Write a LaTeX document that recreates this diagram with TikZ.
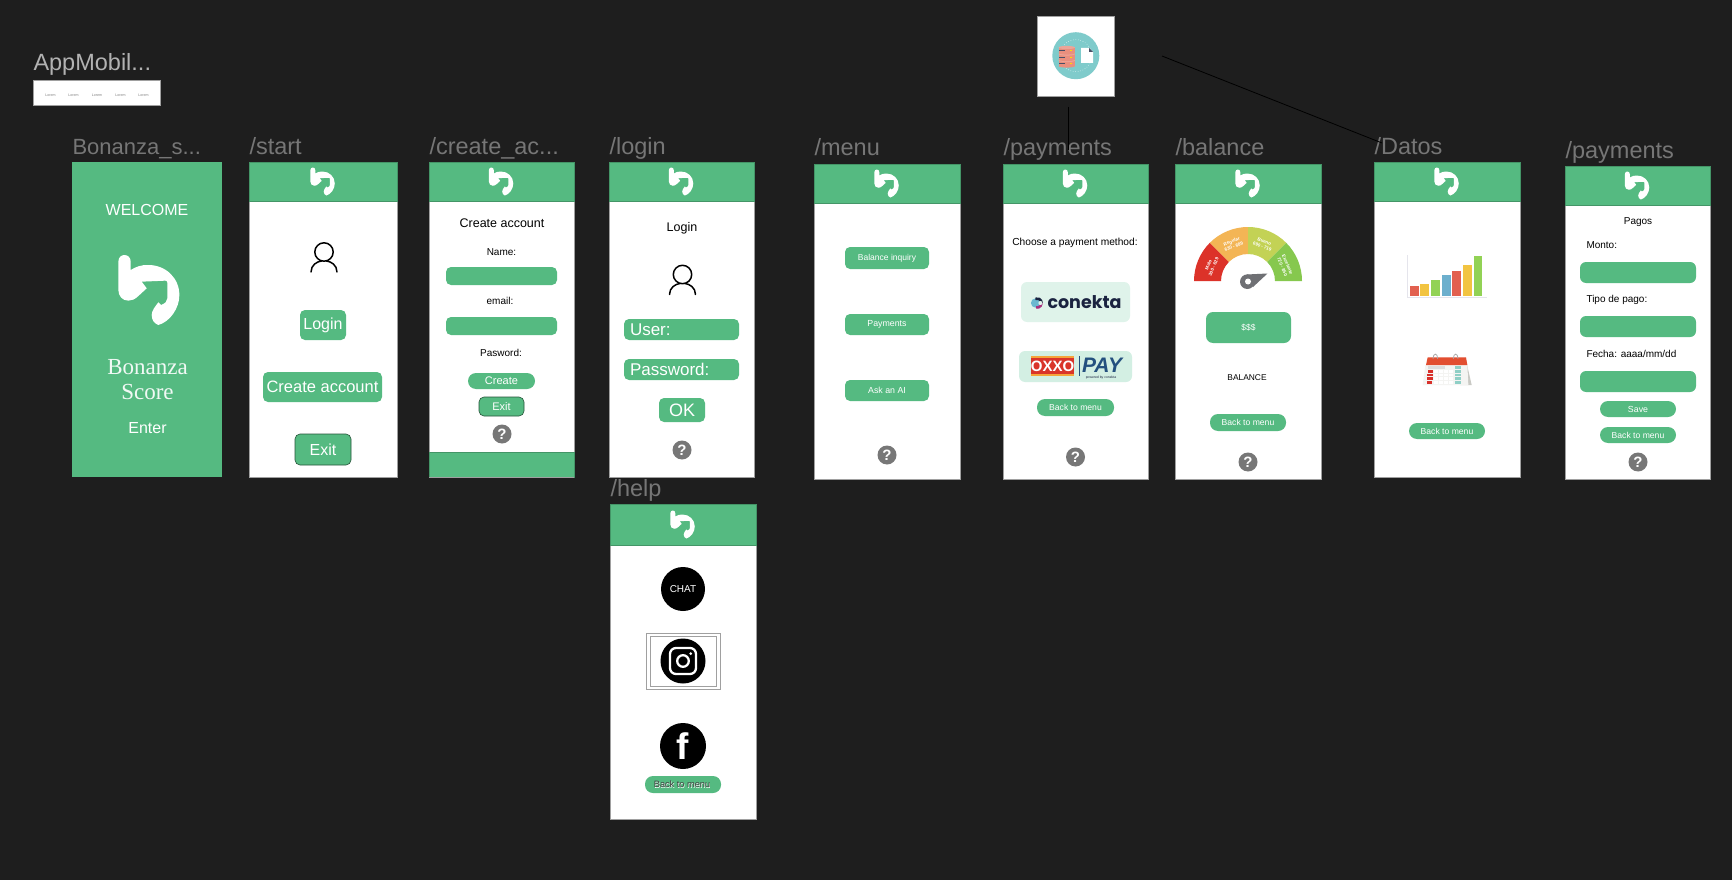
\documentclass[tikz,border=0pt]{standalone}
\usepackage{fontspec}
\setmainfont{Liberation Sans}
\newfontfamily\serifb{Liberation Serif}
\newfontfamily\popp{Poppins}
\newcommand\fs[1]{\fontsize{#1}{#1}\selectfont}
\definecolor{bgd}{HTML}{1E1E1E}
\definecolor{grn}{HTML}{55BA81}
\definecolor{frm}{HTML}{A0A0A0}
\definecolor{lab}{HTML}{767676}
\definecolor{qgr}{HTML}{777777}
\definecolor{navy}{HTML}{1A2340}
\definecolor{oxred}{HTML}{D9352A}
\definecolor{oxorg}{HTML}{F5A53A}
\definecolor{paybl}{HTML}{24507F}
\definecolor{conbl}{HTML}{6BB8D0}
\definecolor{conmg}{HTML}{A8307F}
\definecolor{HTMLdfe}{HTML}{DFF3EA}
\definecolor{HTMLdcf}{HTML}{D3EFE3}
\definecolor{HTML7fc}{HTML}{7FCBCB}
\definecolor{HTMLe98}{HTML}{E98F7E}
\definecolor{HTMLdc3}{HTML}{DC3229}
\definecolor{HTMLf3b}{HTML}{F3B555}
\definecolor{HTMLc3d}{HTML}{C3D255}
\definecolor{HTML86c}{HTML}{86C84E}
\definecolor{HTML6f7}{HTML}{6F7074}
\definecolor{HTMLe5e}{HTML}{E5E5EC}
\definecolor{HTMLe26}{HTML}{E2604F}
\definecolor{HTMLf2c}{HTML}{F2C441}
\definecolor{HTML92d}{HTML}{92D255}
\definecolor{HTML6ca}{HTML}{6CAFCD}
\definecolor{HTMLc9c}{HTML}{C9C9C4}
\definecolor{HTMLf4f}{HTML}{F4F4F2}
\definecolor{HTMLe24}{HTML}{E24E30}
\definecolor{HTMLaaa}{HTML}{AAAAAA}
\definecolor{HTMLddd}{HTML}{DDDDDD}
\definecolor{HTMLd22}{HTML}{D8302A}
\definecolor{HTML8fd}{HTML}{8FCFC6}
\tikzset{
 rb/.style={inner sep=0pt,outer sep=0pt,align=center},
 screen/.style={rb,fill=white,draw=frm,line width=.7pt},
 headbar/.style={rb,fill=grn,draw=grn!80!black,line width=.4pt},
 field/.style={rb,fill=grn,rounded corners=5pt,text=white},
 pill/.style={rb,fill=grn,rounded corners=8pt,text=white},
 outl/.style={field,draw=grn!45!black,line width=.6pt},
 txt/.style={inner sep=0pt,outer sep=0pt},
 framelabel/.style={txt,anchor=base west,text=lab,font=\fs{23.5}},
 conn/.style={draw=black,line width=.8pt},
 iconline/.style={draw=black,line width=1.5pt,line cap=round},
}
\newcommand\rbox[7]{%
 \pgfmathsetmacro\rbcx{(#2+#4)/2}\pgfmathsetmacro\rbcy{(#3+#5)/2}%
 \pgfmathsetmacro\rbw{#4-#2}\pgfmathsetmacro\rbh{#5-#3}%
 \node[#6,minimum width=\rbw pt,minimum height=\rbh pt] (#1) at (\rbcx,\rbcy) {#7};}
\newcommand\applogo[3]{%
 \begin{scope}[shift={(#1,#2)},scale=#3/3,shift={(-176,-150)}]
 \fill[white] (85,65) .. controls (85,52) and (94,45) .. (103,45) .. controls (113,45) and (122,52) .. (122,65) -- (122,90) .. controls (138,80) and (155,74) .. (175,75) .. controls (228,75) and (268,115) .. (268,165) .. controls (268,205) and (240,245) .. (205,255) .. controls (192,250) and (185,240) .. (185,225) .. controls (185,212) and (195,200) .. (205,187) -- (213,195) .. controls (225,190) and (232,185) .. (232,175) -- (232,128) .. controls (232,124) and (230,122) .. (226,122) -- (155,125) -- (170,145) -- (145,168) .. controls (135,178) and (125,182) .. (115,182) .. controls (97,182) and (85,168) .. (85,150) -- cycle;
 \end{scope}}
\newcommand\scr[7]{% name x1 y1 x2 y2 headbottom label
 \rbox{#1}{#2}{#3}{#4}{#5}{screen}{}%
 \rbox{#1head}{#2}{#3}{#4}{#6}{headbar}{}%
 \pgfmathsetmacro\lgx{(#2+#4)/2-.5}\pgfmathsetmacro\lgy{(#3+#6)/2}%
 \pgfmathsetmacro\lbx{#2+.5}\pgfmathsetmacro\lby{#3-8}%
 \applogo{\lgx}{\lgy}{.4}%
 \node[framelabel] (#1label) at (\lbx,\lby) {#7};}
\newcommand\qm[3]{\node[circle,fill=qgr,text=white,inner sep=0pt,minimum size=19pt,font=\fs{15}\bfseries] (#1) at (#2,#3) {?};}
\newcommand\usericon[2]{%
 \begin{scope}[shift={(#1,#2)}]
 \draw[iconline] (0,0) circle (9.2);
 \draw[iconline] (-13,20) .. controls (-13,13) and (-7,9.5) .. (-2.5,9) (2.5,9) .. controls (7,9.5) and (13,13) .. (13,20);
 \end{scope}}
\begin{document}
\begin{tikzpicture}[x=1pt,y=-1pt]
\fill[bgd] (0,0) rectangle (1732,880);
\useasboundingbox (0,0) rectangle (1732,880);

% ---- thumbnail
\node[txt,anchor=base west,text=white!70!black,font=\fs{23.5}] (applabel) at (33.5,71) {AppMobil...};
\rbox{thumb}{33.5}{80}{160}{105}{rb,fill=white,draw=frm,line width=.7pt}{}
\node[txt,text=gray,font=\fs{3.6}] (th1) at (50.5,95) {Lorem};
\node[txt,text=gray,font=\fs{3.6}] (th2) at (73.5,95) {Lorem};
\node[txt,text=gray,font=\fs{3.6}] (th3) at (97,95) {Lorem};
\node[txt,text=gray,font=\fs{3.6}] (th4) at (120.5,95) {Lorem};
\node[txt,text=gray,font=\fs{3.6}] (th5) at (143.5,95) {Lorem};

% ---- splash
\rbox{splash}{72}{162}{222}{477}{rb,fill=grn}{}
\node[framelabel,font=\fs{22}] (splashlabel) at (72.5,154) {Bonanza\_s...};
\node[txt,text=white,font=\fs{16}] (welcome) at (147,209.5) {WELCOME};
\applogo{148.7}{290}{1}
\node[txt,text=white!92!grn,font=\fs{23}\serifb] (bonanza) at (147.5,367) {Bonanza};
\node[txt,text=white!92!grn,font=\fs{23}\serifb] (score) at (147.5,392) {Score};
\node[txt,text=white,font=\fs{16}] (enter) at (147.5,428.5) {Enter};

% ---- start
\scr{start}{249}{162}{397}{477}{201}{/start}
\usericon{324}{252}
\rbox{blogin}{300}{310}{346}{340}{field,font=\fs{16}}{Login}
\rbox{bcreate}{263}{372}{382}{402}{field,font=\fs{16.5}}{Create account}
\rbox{bexit}{295}{434}{351}{465}{outl,font=\fs{16}}{Exit}

% ---- create account
\scr{create}{429}{162}{574}{477}{201}{/create\_ac...}
\rbox{createfoot}{429}{452}{574}{477}{headbar}{}
\fill[frm] (429,476.5) rectangle (574,478);
\node[txt,font=\fs{12.5}] (ctitle) at (502,223) {Create account};
\node[txt,font=\fs{10}] (cname) at (501.5,252.5) {Name:};
\rbox{fname}{446}{267}{557}{285}{field}{}
\node[txt,font=\fs{10}] (cemail) at (500,301) {email:};
\rbox{femail}{446}{317}{557}{335}{field}{}
\node[txt,font=\fs{10}] (cpass) at (501,353) {Pasword:};
\rbox{ccreate}{468}{373}{535}{389}{pill,font=\fs{11}}{Create}
\rbox{cexit}{479}{397}{524}{416}{outl,font=\fs{11}}{Exit}
\qm{qcreate}{502}{434}

% ---- login
\scr{login}{609}{162}{754}{477}{201}{/login}
\node[txt,font=\fs{12.5}] (ltitle) at (682,228.5) {Login};
\usericon{682.5}{274.5}
\rbox{fuser}{624}{319}{739}{340}{field}{}
\node[txt,anchor=west,text=white,font=\fs{17}] (tuser) at (630,329.5) {User:};
\rbox{fpass}{624}{359}{739}{380}{field}{}
\node[txt,anchor=west,text=white,font=\fs{17}] (tpass) at (630,369.5) {Password:};
\rbox{bok}{659}{398}{705}{422}{field,font=\fs{18}}{OK}
\qm{qlogin}{682}{450}

% ---- help
\scr{help}{610}{504}{756}{819}{545}{/help}
\node[circle,fill=black,text=white,minimum size=44pt,inner sep=0pt,font=\fs{10}] (chat) at (683,589) {CHAT};
\rbox{igouter}{646}{633}{720}{689}{rb,draw=frm,line width=.7pt}{}
\rbox{iginner}{650}{636}{716}{686}{rb,draw=frm,line width=.7pt}{}
\node[circle,fill=black,minimum size=45pt,inner sep=0pt] (ig) at (683,661) {};
\draw[white,line width=2.3pt,rounded corners=6pt] (670,648) rectangle (696,674);
\draw[white,line width=2.3pt] (ig.center) circle (5.8);
\fill[white] (690.7,653.7) circle (1.5);
\node[circle,fill=black,minimum size=46pt,inner sep=0pt] (fb) at (683,746) {};
\node[txt,anchor=base,text=white,font=\fs{37}\bfseries] (fbf) at (683,759) {f};
\rbox{hback}{645}{776}{721}{793}{pill}{}
\node[txt,text=white,font=\fs{9.2}] (hbackshadow) at (682.5,785) {Back to menu};
\node[txt,text=black!75,font=\fs{9.2}] (hbacktext) at (682,784.5) {Back to menu};

% ---- menu
\scr{menu}{814}{164}{960}{479}{203}{/menu}
\rbox{b1}{845}{247}{929}{269}{field,font=\fs{8.5}}{\raisebox{-.8pt}{Balance inquiry}}
\rbox{b2}{845}{314}{929}{335}{field,font=\fs{8.8}}{\raisebox{-.8pt}{Payments}}
\rbox{b3}{845}{380}{929}{401}{field,font=\fs{8.8}}{Ask an AI}
\qm{qmenu}{887}{455}

% ---- payments
\scr{pay}{1003}{164}{1148}{479}{203}{/payments}
\node[txt,font=\fs{10.2}] (choose) at (1075,243) {Choose a payment method:};
\rbox{conbg}{1021}{282}{1130}{322}{rb,fill=HTMLdfe,rounded corners=6pt}{}
\begin{scope}[shift={(1037,303)}]
 \fill[conbl] (-1.5,0) circle (4.6);
 \draw[navy,line width=2.6pt] (0:4.6) arc (0:-110:4.6);
 \draw[conmg,line width=2.6pt] (100:4.6) arc (100:0:4.6);
 \fill[HTMLdfe] (3.4,0) circle (2);
\end{scope}
\node[txt,anchor=west,text=navy,font=\fs{17.5}\popp\bfseries] (conekta) at (1047.5,302) {conekta};
\rbox{oxbg}{1019}{351}{1132}{382}{rb,fill=HTMLdcf,rounded corners=6pt}{}
\fill[oxorg] (1031,356) rectangle (1074,376);
\rbox{oxredbox}{1031}{358}{1074}{374}{rb,fill=oxred,text=white,font=\fs{15}\bfseries}{OXXO}
\draw[paybl,line width=.6pt] (1079,356) -- (1079,376);
\node[txt,anchor=west,text=paybl,font=\fs{21}\bfseries\itshape] (paytxt) at (1082,365.5) {PAY};
\node[txt,text=navy,font=\fs{3.4}] (powered) at (1101,377.5) {powered by conekta};
\rbox{pback}{1037}{399}{1114}{416}{pill,font=\fs{8.6}}{Back to menu}
\qm{qpay}{1075.5}{457}

% ---- data icon
\rbox{dataicon}{1037}{16}{1114}{96}{rb,fill=white,draw=frm,line width=.6pt}{}
\node[circle,fill=HTML7fc,minimum size=47pt,inner sep=0pt] (datacirc) at (1075.8,55.7) {};
\draw[white,dotted,line width=.5pt] (datacirc.center) circle (16);
\foreach \yy in {60.5,54,47.5}{
 \fill[HTMLe98] (1058.5,\yy) rectangle (1075,\yy+5.5);
 \fill[HTMLe98] (1066.75,\yy+5.5) ellipse (8.25 and 1.6);
 \fill[HTMLe98!80!white] (1066.75,\yy) ellipse (8.25 and 1.6);
 \fill[navy!80] (1059,\yy+3) rectangle (1065,\yy+3.7);
 \fill[yellow!80!orange] (1070,\yy+3) rectangle (1071.5,\yy+3.8);
}
\fill[white] (1081,48) -- (1089,48) -- (1093,52) -- (1093,63) -- (1081,63) -- cycle;
\fill[navy!80] (1089,48) -- (1093,52) -- (1089,52) -- cycle;

% ---- balance
\scr{bal}{1175}{164}{1321}{479}{203}{/balance}
\begin{scope}[shift={(1248,281)},y=1pt]
 \fill[HTMLdc3] (180:27) -- (180:54) arc (180:135:54) -- (135:27) arc (135:180:27) -- cycle;
 \fill[HTMLf3b] (135:27) -- (135:54) arc (135:90:54) -- (90:27) arc (90:135:27) -- cycle;
 \fill[HTMLc3d] (90:27) -- (90:54) arc (90:45:54) -- (45:27) arc (45:90:27) -- cycle;
 \fill[HTML86c] (45:27) -- (45:54) arc (45:0:54) -- (0:27) arc (0:45:27) -- cycle;
 \node[txt,align=center,text=white,rotate=67.5,font=\fs{4.6}\bfseries] (g1) at (157.5:40) {Malo\\[1pt]300 - 629};
 \node[txt,align=center,text=white,rotate=22.5,font=\fs{4.6}\bfseries] (g2) at (112.5:40) {Regular\\[1pt]630 - 689};
 \node[txt,align=center,text=white,rotate=-22.5,font=\fs{4.6}\bfseries] (g3) at (67.5:40) {Bueno\\[1pt]690 - 719};
 \node[txt,align=center,text=white,rotate=-67.5,font=\fs{4.6}\bfseries] (g4) at (22.5:40) {Excelente\\[1pt]720 - 850};
 \fill[HTML6f7] (-.7,-.7) circle (7.3);
 \fill[HTML6f7] (-1.5,6.5) -- (19.5,7.5) -- (5,-6) -- cycle;
 \fill[white] (0,-.5) circle (3);
\end{scope}
\rbox{fbal}{1206}{312}{1291}{343}{field,rounded corners=7pt,font=\fs{8.5}}{\$\$\$}
\node[txt,font=\fs{8.4}] (baltxt) at (1247,378) {BALANCE};
\rbox{bback}{1210}{414}{1286}{431}{pill,font=\fs{8.6}}{Back to menu}
\qm{qbal}{1248}{462}

% ---- datos
\scr{datos}{1374}{162}{1520}{477}{201}{/Datos}
\begin{scope}[shift={(1380,240)},scale=1/3]
 \fill[HTMLe5e] (80,45) rectangle (85,175);
 \fill[HTMLe5e] (80,170) rectangle (320,175);
 \fill[HTMLe26] (89,139) rectangle (116,168);
 \fill[HTMLf2c] (121,133) rectangle (148,168);
 \fill[HTML92d] (153,120) rectangle (180,168);
 \fill[HTML6ca] (185,105) rectangle (212,168);
 \fill[HTMLe26] (217,94) rectangle (244,168);
 \fill[HTMLf2c] (249,75) rectangle (276,168);
 \fill[HTML92d] (281,48) rectangle (306,168);
 % calendar
 \fill[HTMLc9c] (256,352) -- (275,435) -- (240,435) -- cycle;
 \fill[HTMLf4f] (136,375) -- (262,375) -- (265,435) -- (128,435) -- cycle;
 \fill[HTMLe24] (143,352) -- (258,352) -- (262,375) -- (138,375) -- cycle;
 \draw[HTMLaaa,line width=.8pt] (159,356) .. controls (159,338) and (173,338) .. (173,356);
 \draw[HTMLaaa,line width=.8pt] (220,356) .. controls (220,338) and (234,338) .. (234,356);
 \fill[HTMLddd] (143,379) rectangle (195,387);
 \foreach \yy/\xo in {390/3,401/2,412/1,423/0}{
  \fill[HTMLd22] (140+\xo,\yy) rectangle (157+\xo,\yy+8);
  \foreach \cc in {0,1,2,3}{\fill[white] (161+\cc*15,\yy) rectangle (173+\cc*15,\yy+8);}
 }
 \foreach \yy in {379,390,401,412,423}{\fill[HTML8fd] (225,\yy) rectangle (243,\yy+8);}
\end{scope}
\rbox{dback}{1409}{423}{1485}{439}{pill,font=\fs{8.6}}{Back to menu}

% ---- payments 2
\scr{payb}{1565}{166}{1710}{479}{205}{/payments}
\node[txt,font=\fs{10}] (pagos) at (1638,222) {Pagos};
\node[txt,anchor=west,font=\fs{10}] (monto) at (1586.5,245) {Monto:};
\rbox{f1}{1580}{262}{1696}{283}{field,rounded corners=6pt}{}
\node[txt,anchor=west,font=\fs{10}] (tipo) at (1586.5,300) {Tipo de pago:};
\rbox{f2}{1580}{316}{1696}{337}{field,rounded corners=6pt}{}
\node[txt,anchor=west,font=\fs{10}] (fecha) at (1586.5,354) {Fecha: aaaa/mm/dd};
\rbox{f3}{1580}{371}{1696}{392}{field,rounded corners=6pt}{}
\rbox{psave}{1600}{401}{1676}{417}{pill,font=\fs{8.8}}{Save}
\rbox{pbk}{1600}{427}{1676}{443}{pill,font=\fs{8.6}}{Back to menu}
\qm{qpb}{1638}{462}

% ---- connectors
\coordinate (c1a) at (1068.5,107);
\coordinate (c1b) at (1068.5,150);
\coordinate (c2a) at (1162,56);
\coordinate (c2b) at (1382,143);
\draw[conn] (c1a) -- (c1b);
\draw[conn] (c2a) -- (c2b);
\end{tikzpicture}
\end{document}
